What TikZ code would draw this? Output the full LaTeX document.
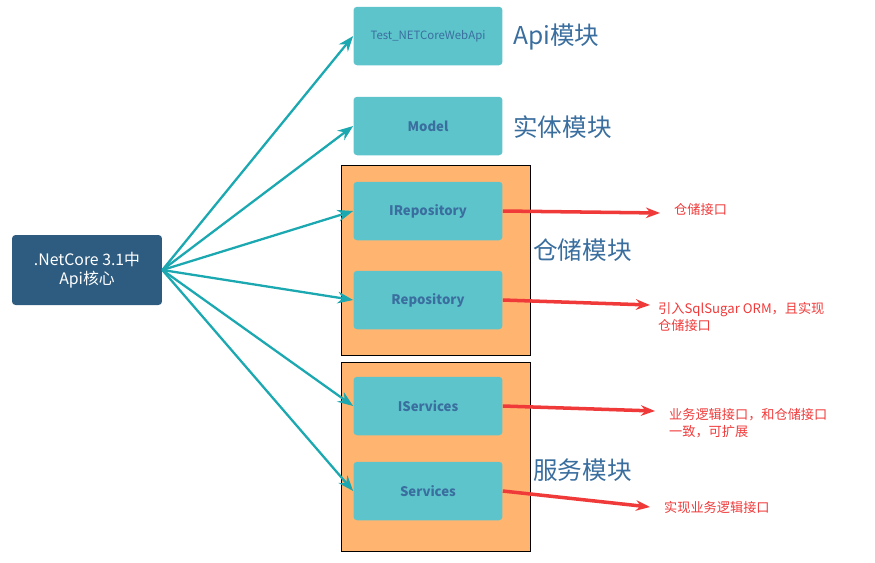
\documentclass[tikz,border=0pt]{standalone}
\usepackage{fontspec}
\setmainfont{Noto Sans CJK SC}
\usetikzlibrary{arrows.meta}
\definecolor{teal1}{HTML}{5EC4CC}
\definecolor{navy1}{HTML}{2E5C80}
\definecolor{txtb}{HTML}{3A6E9E}
\definecolor{orng}{HTML}{FFB570}
\definecolor{arrw}{HTML}{1BA8B0}
\definecolor{redd}{HTML}{F03A3A}
\tikzset{
  >= Stealth,
  mb/.style={draw=none, fill=teal1, rounded corners=2pt, minimum width=2.98cm, minimum height=1.17cm, text=txtb, font=\fontsize{7.5}{9}\selectfont\bfseries},
  grp/.style={draw=black, fill=orng, line width=0.5pt},
  big/.style={text=txtb, font=\fontsize{14}{16}\selectfont, anchor=west},
  note/.style={text=redd, font=\fontsize{7.5}{10}\selectfont, anchor=west, align=left},
  ln/.style={->, draw=arrw, line width=1.3pt},
  rl/.style={-{Stealth[length=8pt,width=6pt]}, draw=redd, line width=2pt}
}
\begin{document}
\begin{tikzpicture}[x=0.02cm,y=-0.02cm]
  \useasboundingbox (0,0) rectangle (875,562);
  \fill[grp] (341,165) rectangle (530,355);
  \fill[grp] (341,362) rectangle (530,551);
  \node[draw=none, fill=navy1, rounded corners=2pt, minimum width=3cm, minimum height=1.4cm, text=white, align=center, font=\fontsize{9}{11}\selectfont] (core) at (87,270) {.NetCore 3.1中\\Api核心};
  \node[mb, font=\fontsize{6.5}{8}\selectfont] (api) at (428,36) {Test\_NETCoreWebApi};
  \node[mb] (model) at (428,126) {Model};
  \node[mb] (irep) at (428,211) {IRepository};
  \node[mb] (rep) at (428,300) {Repository};
  \node[mb] (iser) at (428,406) {IServices};
  \node[mb] (ser) at (428,491) {Services};
  \node[big] at (507,37) {Api模块};
  \node[big] at (507,127) {实体模块};
  \node[big] at (527,250) {仓储模块};
  \node[big] at (527,470) {服务模块};
  \foreach \n in {api,model,irep,rep,iser,ser}
    \draw[ln] (core.east) -- (\n.west);
  \coordinate (e1) at (660,213);
  \coordinate (e2) at (650,305);
  \coordinate (e3) at (655,411);
  \coordinate (e4) at (650,507);
  \draw[rl] (irep.east) -- (e1);
  \draw[rl] (rep.east) -- (e2);
  \draw[rl] (iser.east) -- (e3);
  \draw[rl] (ser.east) -- (e4);
  \node[note] at (668,209) {仓储接口};
  \node[note] at (652,317) {引入SqlSugar ORM，且实现\\仓储接口};
  \node[note] at (663,423) {业务逻辑接口，和仓储接口\\一致，可扩展};
  \node[note] at (658,507) {实现业务逻辑接口};
\end{tikzpicture}
\end{document}
